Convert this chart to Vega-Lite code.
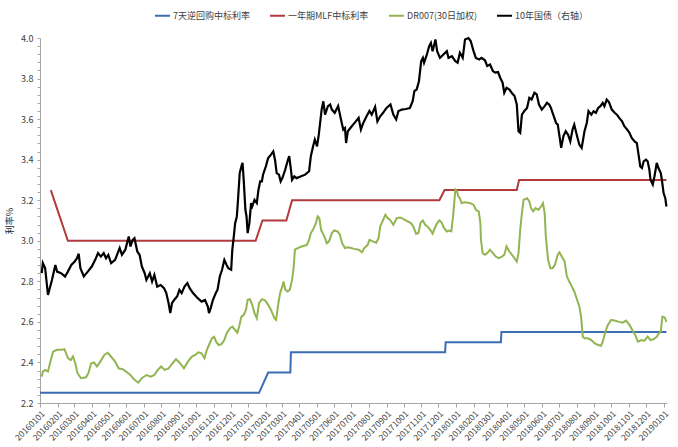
{
  "$schema": "https://vega.github.io/schema/vega-lite/v6.json",
  "width": 627,
  "height": 365,
  "autosize": {"type": "none"},
  "padding": {"left": 40, "top": 38, "right": 11, "bottom": 44},
  "background": "white",
  "config": {
    "font": "Noto Sans CJK SC",
    "view": {"stroke": null},
    "axis": {"grid": false, "domainColor": "#A6A6A6", "tickColor": "#A6A6A6", "labelColor": "#404040", "labelFontSize": 9, "titleColor": "#262626", "labelFont": "Noto Sans CJK SC"}
  },
  "datasets": {
    "repo": [
      {"date": "2016-01-01", "value": 2.25}, {"date": "2017-01-20", "value": 2.25}, {"date": "2017-02-05", "value": 2.35},
      {"date": "2017-03-16", "value": 2.35}, {"date": "2017-03-17", "value": 2.45}, {"date": "2017-12-13", "value": 2.45},
      {"date": "2017-12-14", "value": 2.50}, {"date": "2018-03-21", "value": 2.50}, {"date": "2018-03-22", "value": 2.55},
      {"date": "2019-01-06", "value": 2.55}
    ],
    "mlf": [
      {"date": "2016-01-20", "value": 3.25}, {"date": "2016-02-19", "value": 3.00}, {"date": "2017-01-14", "value": 3.00},
      {"date": "2017-01-26", "value": 3.10}, {"date": "2017-03-09", "value": 3.10}, {"date": "2017-03-19", "value": 3.20},
      {"date": "2017-12-03", "value": 3.20}, {"date": "2017-12-12", "value": 3.25}, {"date": "2018-04-18", "value": 3.25},
      {"date": "2018-04-22", "value": 3.30}, {"date": "2019-01-06", "value": 3.30}
    ],
    "dr007": [
      {"date": "2016-01-04", "value": 2.33}, {"date": "2016-01-06", "value": 2.355}, {"date": "2016-01-10", "value": 2.363},
      {"date": "2016-01-15", "value": 2.355}, {"date": "2016-01-20", "value": 2.412}, {"date": "2016-01-24", "value": 2.453},
      {"date": "2016-01-31", "value": 2.462}, {"date": "2016-02-08", "value": 2.462}, {"date": "2016-02-13", "value": 2.465},
      {"date": "2016-02-19", "value": 2.421}, {"date": "2016-02-24", "value": 2.412}, {"date": "2016-02-28", "value": 2.43},
      {"date": "2016-03-03", "value": 2.396}, {"date": "2016-03-07", "value": 2.347}, {"date": "2016-03-13", "value": 2.322},
      {"date": "2016-03-22", "value": 2.327}, {"date": "2016-03-26", "value": 2.347}, {"date": "2016-03-31", "value": 2.396},
      {"date": "2016-04-05", "value": 2.40}, {"date": "2016-04-10", "value": 2.38}, {"date": "2016-04-16", "value": 2.404},
      {"date": "2016-04-23", "value": 2.437}, {"date": "2016-04-29", "value": 2.448}, {"date": "2016-05-05", "value": 2.428},
      {"date": "2016-05-12", "value": 2.404}, {"date": "2016-05-18", "value": 2.371}, {"date": "2016-05-26", "value": 2.366},
      {"date": "2016-05-31", "value": 2.355}, {"date": "2016-06-08", "value": 2.338}, {"date": "2016-06-15", "value": 2.314},
      {"date": "2016-06-22", "value": 2.30}, {"date": "2016-06-28", "value": 2.322}, {"date": "2016-07-06", "value": 2.338},
      {"date": "2016-07-14", "value": 2.33}, {"date": "2016-07-20", "value": 2.338}, {"date": "2016-07-26", "value": 2.363},
      {"date": "2016-08-01", "value": 2.38}, {"date": "2016-08-07", "value": 2.363}, {"date": "2016-08-14", "value": 2.371},
      {"date": "2016-08-21", "value": 2.396}, {"date": "2016-08-27", "value": 2.416}, {"date": "2016-09-02", "value": 2.40},
      {"date": "2016-09-10", "value": 2.371}, {"date": "2016-09-17", "value": 2.404}, {"date": "2016-09-24", "value": 2.429},
      {"date": "2016-09-30", "value": 2.437}, {"date": "2016-10-05", "value": 2.45}, {"date": "2016-10-11", "value": 2.445},
      {"date": "2016-10-16", "value": 2.421}, {"date": "2016-10-20", "value": 2.46}, {"date": "2016-10-24", "value": 2.486},
      {"date": "2016-10-29", "value": 2.519}, {"date": "2016-11-02", "value": 2.527}, {"date": "2016-11-06", "value": 2.50},
      {"date": "2016-11-10", "value": 2.486}, {"date": "2016-11-15", "value": 2.49}, {"date": "2016-11-20", "value": 2.51},
      {"date": "2016-11-24", "value": 2.544}, {"date": "2016-11-30", "value": 2.569}, {"date": "2016-12-04", "value": 2.577},
      {"date": "2016-12-09", "value": 2.56}, {"date": "2016-12-13", "value": 2.547}, {"date": "2016-12-16", "value": 2.577},
      {"date": "2016-12-20", "value": 2.626}, {"date": "2016-12-24", "value": 2.634}, {"date": "2016-12-28", "value": 2.659},
      {"date": "2016-12-31", "value": 2.709}, {"date": "2017-01-04", "value": 2.712}, {"date": "2017-01-08", "value": 2.684},
      {"date": "2017-01-12", "value": 2.643}, {"date": "2017-01-16", "value": 2.618}, {"date": "2017-01-20", "value": 2.692},
      {"date": "2017-01-25", "value": 2.712}, {"date": "2017-01-31", "value": 2.705}, {"date": "2017-02-05", "value": 2.684},
      {"date": "2017-02-10", "value": 2.659}, {"date": "2017-02-16", "value": 2.618}, {"date": "2017-02-19", "value": 2.61},
      {"date": "2017-02-23", "value": 2.692}, {"date": "2017-02-26", "value": 2.742}, {"date": "2017-03-02", "value": 2.775},
      {"date": "2017-03-04", "value": 2.799}, {"date": "2017-03-07", "value": 2.76}, {"date": "2017-03-11", "value": 2.75},
      {"date": "2017-03-15", "value": 2.758}, {"date": "2017-03-19", "value": 2.807}, {"date": "2017-03-22", "value": 2.873},
      {"date": "2017-03-24", "value": 2.956}, {"date": "2017-03-29", "value": 2.964}, {"date": "2017-04-05", "value": 2.972},
      {"date": "2017-04-14", "value": 2.98}, {"date": "2017-04-18", "value": 3.005}, {"date": "2017-04-21", "value": 3.038},
      {"date": "2017-04-25", "value": 3.055}, {"date": "2017-04-30", "value": 3.087}, {"date": "2017-05-03", "value": 3.12},
      {"date": "2017-05-06", "value": 3.112}, {"date": "2017-05-09", "value": 3.054}, {"date": "2017-05-12", "value": 3.038},
      {"date": "2017-05-16", "value": 3.013}, {"date": "2017-05-19", "value": 2.988}, {"date": "2017-05-23", "value": 2.997},
      {"date": "2017-05-28", "value": 3.038}, {"date": "2017-06-01", "value": 3.051}, {"date": "2017-06-07", "value": 3.046},
      {"date": "2017-06-11", "value": 3.03}, {"date": "2017-06-15", "value": 2.988}, {"date": "2017-06-20", "value": 2.964},
      {"date": "2017-06-25", "value": 2.968}, {"date": "2017-07-01", "value": 2.964}, {"date": "2017-07-06", "value": 2.96},
      {"date": "2017-07-14", "value": 2.956}, {"date": "2017-07-20", "value": 2.943}, {"date": "2017-07-24", "value": 2.964},
      {"date": "2017-07-30", "value": 2.98}, {"date": "2017-08-02", "value": 3.005}, {"date": "2017-08-08", "value": 2.997},
      {"date": "2017-08-14", "value": 2.99}, {"date": "2017-08-18", "value": 3.013}, {"date": "2017-08-21", "value": 3.071},
      {"date": "2017-08-25", "value": 3.096}, {"date": "2017-08-30", "value": 3.128}, {"date": "2017-09-03", "value": 3.112},
      {"date": "2017-09-07", "value": 3.104}, {"date": "2017-09-13", "value": 3.079}, {"date": "2017-09-19", "value": 3.112},
      {"date": "2017-09-25", "value": 3.115}, {"date": "2017-10-01", "value": 3.107}, {"date": "2017-10-08", "value": 3.096},
      {"date": "2017-10-14", "value": 3.087}, {"date": "2017-10-18", "value": 3.071}, {"date": "2017-10-23", "value": 3.035},
      {"date": "2017-10-27", "value": 3.038}, {"date": "2017-10-31", "value": 3.09}, {"date": "2017-11-04", "value": 3.10},
      {"date": "2017-11-08", "value": 3.079}, {"date": "2017-11-12", "value": 3.071}, {"date": "2017-11-17", "value": 3.054},
      {"date": "2017-11-21", "value": 3.035}, {"date": "2017-11-25", "value": 3.063}, {"date": "2017-11-29", "value": 3.087},
      {"date": "2017-12-03", "value": 3.10}, {"date": "2017-12-07", "value": 3.09}, {"date": "2017-12-11", "value": 3.063},
      {"date": "2017-12-16", "value": 3.046}, {"date": "2017-12-20", "value": 3.05}, {"date": "2017-12-24", "value": 3.046},
      {"date": "2017-12-27", "value": 3.12}, {"date": "2017-12-29", "value": 3.186}, {"date": "2017-12-31", "value": 3.252},
      {"date": "2018-01-03", "value": 3.244}, {"date": "2018-01-05", "value": 3.219}, {"date": "2018-01-08", "value": 3.21},
      {"date": "2018-01-11", "value": 3.186}, {"date": "2018-01-17", "value": 3.19}, {"date": "2018-01-25", "value": 3.186},
      {"date": "2018-02-01", "value": 3.178}, {"date": "2018-02-05", "value": 3.153}, {"date": "2018-02-10", "value": 3.145},
      {"date": "2018-02-13", "value": 3.087}, {"date": "2018-02-14", "value": 3.005}, {"date": "2018-02-17", "value": 2.939},
      {"date": "2018-02-21", "value": 2.931}, {"date": "2018-02-25", "value": 2.939}, {"date": "2018-03-02", "value": 2.956},
      {"date": "2018-03-07", "value": 2.939}, {"date": "2018-03-12", "value": 2.922}, {"date": "2018-03-17", "value": 2.914},
      {"date": "2018-03-23", "value": 2.922}, {"date": "2018-03-27", "value": 2.931}, {"date": "2018-03-31", "value": 2.972},
      {"date": "2018-04-05", "value": 2.947}, {"date": "2018-04-12", "value": 2.922}, {"date": "2018-04-18", "value": 2.898},
      {"date": "2018-04-21", "value": 2.939}, {"date": "2018-04-24", "value": 3.054}, {"date": "2018-04-27", "value": 3.137},
      {"date": "2018-04-30", "value": 3.202}, {"date": "2018-05-06", "value": 3.21}, {"date": "2018-05-10", "value": 3.194},
      {"date": "2018-05-13", "value": 3.161}, {"date": "2018-05-17", "value": 3.145}, {"date": "2018-05-21", "value": 3.161},
      {"date": "2018-05-26", "value": 3.153}, {"date": "2018-05-31", "value": 3.17}, {"date": "2018-06-03", "value": 3.185},
      {"date": "2018-06-06", "value": 3.137}, {"date": "2018-06-08", "value": 3.021}, {"date": "2018-06-12", "value": 2.906},
      {"date": "2018-06-16", "value": 2.865}, {"date": "2018-06-20", "value": 2.865}, {"date": "2018-06-24", "value": 2.881},
      {"date": "2018-06-29", "value": 2.931}, {"date": "2018-07-02", "value": 2.943}, {"date": "2018-07-06", "value": 2.922},
      {"date": "2018-07-11", "value": 2.898}, {"date": "2018-07-15", "value": 2.824}, {"date": "2018-07-19", "value": 2.80},
      {"date": "2018-07-24", "value": 2.774}, {"date": "2018-07-28", "value": 2.75}, {"date": "2018-08-02", "value": 2.709},
      {"date": "2018-08-06", "value": 2.675}, {"date": "2018-08-09", "value": 2.626}, {"date": "2018-08-12", "value": 2.527},
      {"date": "2018-08-15", "value": 2.519}, {"date": "2018-08-21", "value": 2.519}, {"date": "2018-08-27", "value": 2.51},
      {"date": "2018-09-02", "value": 2.494}, {"date": "2018-09-08", "value": 2.486}, {"date": "2018-09-13", "value": 2.482},
      {"date": "2018-09-16", "value": 2.502}, {"date": "2018-09-20", "value": 2.544}, {"date": "2018-09-25", "value": 2.585},
      {"date": "2018-10-01", "value": 2.61}, {"date": "2018-10-08", "value": 2.606}, {"date": "2018-10-15", "value": 2.60},
      {"date": "2018-10-21", "value": 2.596}, {"date": "2018-10-27", "value": 2.606}, {"date": "2018-11-02", "value": 2.585},
      {"date": "2018-11-07", "value": 2.56}, {"date": "2018-11-12", "value": 2.536}, {"date": "2018-11-17", "value": 2.502},
      {"date": "2018-11-23", "value": 2.51}, {"date": "2018-11-28", "value": 2.506}, {"date": "2018-12-04", "value": 2.527},
      {"date": "2018-12-09", "value": 2.51}, {"date": "2018-12-14", "value": 2.514}, {"date": "2018-12-20", "value": 2.527},
      {"date": "2018-12-24", "value": 2.544}, {"date": "2018-12-27", "value": 2.552}, {"date": "2018-12-30", "value": 2.626},
      {"date": "2019-01-03", "value": 2.622}, {"date": "2019-01-06", "value": 2.60}
    ],
    "bond": [
      {"date": "2016-01-04", "value": 2.84}, {"date": "2016-01-06", "value": 2.89}, {"date": "2016-01-10", "value": 2.865},
      {"date": "2016-01-15", "value": 2.733}, {"date": "2016-01-22", "value": 2.807}, {"date": "2016-01-28", "value": 2.881},
      {"date": "2016-01-31", "value": 2.848}, {"date": "2016-02-07", "value": 2.84}, {"date": "2016-02-14", "value": 2.824},
      {"date": "2016-02-19", "value": 2.848}, {"date": "2016-02-25", "value": 2.881}, {"date": "2016-03-02", "value": 2.898},
      {"date": "2016-03-06", "value": 2.914}, {"date": "2016-03-09", "value": 2.936}, {"date": "2016-03-12", "value": 2.865},
      {"date": "2016-03-18", "value": 2.824}, {"date": "2016-03-25", "value": 2.848}, {"date": "2016-04-01", "value": 2.873},
      {"date": "2016-04-07", "value": 2.906}, {"date": "2016-04-12", "value": 2.939}, {"date": "2016-04-17", "value": 2.922},
      {"date": "2016-04-22", "value": 2.939}, {"date": "2016-04-26", "value": 2.914}, {"date": "2016-04-30", "value": 2.93},
      {"date": "2016-05-05", "value": 2.89}, {"date": "2016-05-12", "value": 2.906}, {"date": "2016-05-20", "value": 2.964},
      {"date": "2016-05-24", "value": 2.931}, {"date": "2016-05-30", "value": 2.956}, {"date": "2016-06-05", "value": 3.021},
      {"date": "2016-06-08", "value": 2.972}, {"date": "2016-06-12", "value": 3.005}, {"date": "2016-06-15", "value": 3.013},
      {"date": "2016-06-20", "value": 2.947}, {"date": "2016-06-24", "value": 2.931}, {"date": "2016-06-28", "value": 2.873},
      {"date": "2016-07-03", "value": 2.84}, {"date": "2016-07-06", "value": 2.807}, {"date": "2016-07-12", "value": 2.84},
      {"date": "2016-07-16", "value": 2.799}, {"date": "2016-07-20", "value": 2.832}, {"date": "2016-07-25", "value": 2.774},
      {"date": "2016-07-31", "value": 2.782}, {"date": "2016-08-06", "value": 2.766}, {"date": "2016-08-10", "value": 2.742},
      {"date": "2016-08-14", "value": 2.692}, {"date": "2016-08-17", "value": 2.643}, {"date": "2016-08-20", "value": 2.692},
      {"date": "2016-08-24", "value": 2.709}, {"date": "2016-08-29", "value": 2.725}, {"date": "2016-09-02", "value": 2.758},
      {"date": "2016-09-06", "value": 2.742}, {"date": "2016-09-11", "value": 2.774}, {"date": "2016-09-16", "value": 2.791},
      {"date": "2016-09-20", "value": 2.766}, {"date": "2016-09-26", "value": 2.742}, {"date": "2016-10-03", "value": 2.72},
      {"date": "2016-10-11", "value": 2.70}, {"date": "2016-10-17", "value": 2.708}, {"date": "2016-10-22", "value": 2.676},
      {"date": "2016-10-24", "value": 2.643}, {"date": "2016-10-27", "value": 2.668}, {"date": "2016-10-31", "value": 2.709},
      {"date": "2016-11-05", "value": 2.742}, {"date": "2016-11-08", "value": 2.758}, {"date": "2016-11-12", "value": 2.824},
      {"date": "2016-11-16", "value": 2.857}, {"date": "2016-11-20", "value": 2.906}, {"date": "2016-11-24", "value": 2.881},
      {"date": "2016-11-27", "value": 2.865}, {"date": "2016-12-02", "value": 2.857}, {"date": "2016-12-04", "value": 2.956},
      {"date": "2016-12-06", "value": 3.005}, {"date": "2016-12-09", "value": 3.087}, {"date": "2016-12-12", "value": 3.12},
      {"date": "2016-12-14", "value": 3.202}, {"date": "2016-12-17", "value": 3.334}, {"date": "2016-12-20", "value": 3.367},
      {"date": "2016-12-22", "value": 3.384}, {"date": "2016-12-24", "value": 3.301}, {"date": "2016-12-27", "value": 3.153},
      {"date": "2016-12-29", "value": 3.12}, {"date": "2016-12-31", "value": 3.038}, {"date": "2017-01-03", "value": 3.087},
      {"date": "2017-01-06", "value": 3.186}, {"date": "2017-01-08", "value": 3.17}, {"date": "2017-01-12", "value": 3.202},
      {"date": "2017-01-16", "value": 3.186}, {"date": "2017-01-19", "value": 3.252}, {"date": "2017-01-22", "value": 3.293},
      {"date": "2017-01-25", "value": 3.293}, {"date": "2017-01-27", "value": 3.326}, {"date": "2017-02-01", "value": 3.367},
      {"date": "2017-02-05", "value": 3.408}, {"date": "2017-02-10", "value": 3.425}, {"date": "2017-02-14", "value": 3.441},
      {"date": "2017-02-17", "value": 3.40}, {"date": "2017-02-20", "value": 3.334}, {"date": "2017-02-24", "value": 3.326},
      {"date": "2017-02-27", "value": 3.293}, {"date": "2017-03-02", "value": 3.309}, {"date": "2017-03-07", "value": 3.351},
      {"date": "2017-03-11", "value": 3.392}, {"date": "2017-03-14", "value": 3.417}, {"date": "2017-03-17", "value": 3.351},
      {"date": "2017-03-19", "value": 3.301}, {"date": "2017-03-23", "value": 3.318}, {"date": "2017-03-27", "value": 3.309},
      {"date": "2017-04-04", "value": 3.318}, {"date": "2017-04-11", "value": 3.326}, {"date": "2017-04-18", "value": 3.343},
      {"date": "2017-04-21", "value": 3.417}, {"date": "2017-04-25", "value": 3.466}, {"date": "2017-04-28", "value": 3.499},
      {"date": "2017-05-02", "value": 3.466}, {"date": "2017-05-05", "value": 3.523}, {"date": "2017-05-10", "value": 3.647},
      {"date": "2017-05-13", "value": 3.688}, {"date": "2017-05-16", "value": 3.622}, {"date": "2017-05-21", "value": 3.664},
      {"date": "2017-05-25", "value": 3.672}, {"date": "2017-05-28", "value": 3.647}, {"date": "2017-06-02", "value": 3.631},
      {"date": "2017-06-08", "value": 3.664}, {"date": "2017-06-13", "value": 3.598}, {"date": "2017-06-17", "value": 3.548},
      {"date": "2017-06-20", "value": 3.556}, {"date": "2017-06-22", "value": 3.482}, {"date": "2017-06-25", "value": 3.54},
      {"date": "2017-07-02", "value": 3.565}, {"date": "2017-07-08", "value": 3.585}, {"date": "2017-07-14", "value": 3.606},
      {"date": "2017-07-18", "value": 3.548}, {"date": "2017-07-22", "value": 3.58}, {"date": "2017-07-28", "value": 3.614},
      {"date": "2017-08-02", "value": 3.64}, {"date": "2017-08-06", "value": 3.622}, {"date": "2017-08-12", "value": 3.66},
      {"date": "2017-08-16", "value": 3.589}, {"date": "2017-08-21", "value": 3.614}, {"date": "2017-08-26", "value": 3.631},
      {"date": "2017-09-01", "value": 3.655}, {"date": "2017-09-08", "value": 3.672}, {"date": "2017-09-13", "value": 3.622},
      {"date": "2017-09-18", "value": 3.598}, {"date": "2017-09-22", "value": 3.64}, {"date": "2017-09-28", "value": 3.647},
      {"date": "2017-10-05", "value": 3.65}, {"date": "2017-10-12", "value": 3.655}, {"date": "2017-10-17", "value": 3.688},
      {"date": "2017-10-20", "value": 3.738}, {"date": "2017-10-24", "value": 3.746}, {"date": "2017-10-28", "value": 3.787},
      {"date": "2017-11-01", "value": 3.886}, {"date": "2017-11-04", "value": 3.902}, {"date": "2017-11-06", "value": 3.878},
      {"date": "2017-11-11", "value": 3.919}, {"date": "2017-11-15", "value": 3.96}, {"date": "2017-11-18", "value": 3.976},
      {"date": "2017-11-21", "value": 3.935}, {"date": "2017-11-26", "value": 3.993}, {"date": "2017-11-29", "value": 3.935},
      {"date": "2017-12-04", "value": 3.902}, {"date": "2017-12-10", "value": 3.919}, {"date": "2017-12-16", "value": 3.935},
      {"date": "2017-12-19", "value": 3.902}, {"date": "2017-12-25", "value": 3.91}, {"date": "2017-12-31", "value": 3.886},
      {"date": "2018-01-04", "value": 3.878}, {"date": "2018-01-08", "value": 3.927}, {"date": "2018-01-13", "value": 3.902},
      {"date": "2018-01-17", "value": 3.993}, {"date": "2018-01-23", "value": 4.0}, {"date": "2018-01-27", "value": 3.985},
      {"date": "2018-02-01", "value": 3.935}, {"date": "2018-02-05", "value": 3.902}, {"date": "2018-02-11", "value": 3.894},
      {"date": "2018-02-15", "value": 3.902}, {"date": "2018-02-21", "value": 3.89}, {"date": "2018-02-25", "value": 3.862},
      {"date": "2018-03-02", "value": 3.869}, {"date": "2018-03-07", "value": 3.837}, {"date": "2018-03-11", "value": 3.829},
      {"date": "2018-03-16", "value": 3.832}, {"date": "2018-03-20", "value": 3.803}, {"date": "2018-03-24", "value": 3.78},
      {"date": "2018-03-27", "value": 3.73}, {"date": "2018-03-31", "value": 3.754}, {"date": "2018-04-05", "value": 3.746},
      {"date": "2018-04-09", "value": 3.73}, {"date": "2018-04-14", "value": 3.714}, {"date": "2018-04-18", "value": 3.672},
      {"date": "2018-04-21", "value": 3.54}, {"date": "2018-04-24", "value": 3.532}, {"date": "2018-04-27", "value": 3.622},
      {"date": "2018-05-01", "value": 3.639}, {"date": "2018-05-06", "value": 3.655}, {"date": "2018-05-10", "value": 3.705},
      {"date": "2018-05-14", "value": 3.697}, {"date": "2018-05-19", "value": 3.73}, {"date": "2018-05-23", "value": 3.722},
      {"date": "2018-05-27", "value": 3.672}, {"date": "2018-06-01", "value": 3.647}, {"date": "2018-06-06", "value": 3.664},
      {"date": "2018-06-10", "value": 3.68}, {"date": "2018-06-14", "value": 3.672}, {"date": "2018-06-17", "value": 3.655},
      {"date": "2018-06-21", "value": 3.622}, {"date": "2018-06-26", "value": 3.581}, {"date": "2018-06-29", "value": 3.573},
      {"date": "2018-07-02", "value": 3.516}, {"date": "2018-07-05", "value": 3.458}, {"date": "2018-07-09", "value": 3.516},
      {"date": "2018-07-13", "value": 3.54}, {"date": "2018-07-17", "value": 3.524}, {"date": "2018-07-21", "value": 3.49},
      {"date": "2018-07-25", "value": 3.548}, {"date": "2018-07-28", "value": 3.573}, {"date": "2018-08-02", "value": 3.516},
      {"date": "2018-08-06", "value": 3.474}, {"date": "2018-08-10", "value": 3.458}, {"date": "2018-08-15", "value": 3.54},
      {"date": "2018-08-19", "value": 3.581}, {"date": "2018-08-22", "value": 3.639}, {"date": "2018-08-27", "value": 3.622},
      {"date": "2018-08-31", "value": 3.639}, {"date": "2018-09-04", "value": 3.631}, {"date": "2018-09-08", "value": 3.655},
      {"date": "2018-09-12", "value": 3.664}, {"date": "2018-09-16", "value": 3.68}, {"date": "2018-09-19", "value": 3.664},
      {"date": "2018-09-23", "value": 3.696}, {"date": "2018-09-27", "value": 3.684}, {"date": "2018-10-02", "value": 3.647},
      {"date": "2018-10-07", "value": 3.631}, {"date": "2018-10-11", "value": 3.622}, {"date": "2018-10-15", "value": 3.606},
      {"date": "2018-10-20", "value": 3.589}, {"date": "2018-10-24", "value": 3.565}, {"date": "2018-10-29", "value": 3.548},
      {"date": "2018-11-02", "value": 3.532}, {"date": "2018-11-06", "value": 3.507}, {"date": "2018-11-11", "value": 3.49},
      {"date": "2018-11-15", "value": 3.482}, {"date": "2018-11-18", "value": 3.425}, {"date": "2018-11-21", "value": 3.367},
      {"date": "2018-11-24", "value": 3.359}, {"date": "2018-11-27", "value": 3.392}, {"date": "2018-12-01", "value": 3.40},
      {"date": "2018-12-04", "value": 3.392}, {"date": "2018-12-07", "value": 3.351}, {"date": "2018-12-09", "value": 3.301},
      {"date": "2018-12-13", "value": 3.277}, {"date": "2018-12-16", "value": 3.318}, {"date": "2018-12-20", "value": 3.384},
      {"date": "2018-12-23", "value": 3.359}, {"date": "2018-12-27", "value": 3.334}, {"date": "2018-12-29", "value": 3.301},
      {"date": "2019-01-01", "value": 3.235}, {"date": "2019-01-04", "value": 3.21}, {"date": "2019-01-06", "value": 3.169}
    ]
  },
  "encoding": {
    "x": {
      "field": "date",
      "type": "temporal",
      "scale": {"type": "utc", "domain": [{"year": 2016, "month": 1, "date": 1, "utc": true}, {"year": 2019, "month": 1, "date": 7, "utc": true}]},
      "axis": {"title": null, "format": "%Y%m%d", "labelAngle": -45, "tickCount": {"interval": "month", "step": 1}, "tickSize": 4, "labelOverlap": false, "labelFontSize": 8.5, "labelPadding": 2, "labelFlush": false}
    },
    "y": {
      "field": "value",
      "type": "quantitative",
      "scale": {"domain": [2.2, 4.0], "nice": false, "zero": false},
      "axis": {
        "title": "利率%",
        "values": [2.2, 2.24, 2.28, 2.32, 2.36, 2.4, 2.44, 2.48, 2.52, 2.56, 2.6, 2.64, 2.68, 2.72, 2.76, 2.8, 2.84, 2.88, 2.92, 2.96, 3.0, 3.04, 3.08, 3.12, 3.16, 3.2, 3.24, 3.28, 3.32, 3.36, 3.4, 3.44, 3.48, 3.52, 3.56, 3.6, 3.64, 3.68, 3.72, 3.76, 3.8, 3.84, 3.88, 3.92, 3.96, 4.0],
        "labelExpr": "abs(datum.value * 5 - round(datum.value * 5)) < 0.001 ? format(datum.value, '.1f') : ''",
        "labelOverlap": false,
        "tickSize": 3,
        "labelPadding": 4,
        "titlePadding": 6,
        "titleFontSize": 9,
        "titleFontWeight": "normal"
      }
    }
  },
  "layer": [
    {
      "data": {"name": "repo"},
      "mark": {"type": "line", "strokeWidth": 2},
      "encoding": {
        "color": {
          "datum": "7天逆回购中标利率",
          "type": "nominal",
          "scale": {"domain": ["7天逆回购中标利率", "一年期MLF中标利率", "DR007(30日加权)", "10年国债（右轴）"], "range": ["#3C6DB4", "#B23A3D", "#92B451", "#000000"]},
          "legend": {"orient": "none", "legendX": 114, "legendY": -31, "direction": "horizontal", "title": null, "symbolType": "stroke", "symbolStrokeWidth": 2, "symbolSize": 225, "labelFontSize": 9, "labelColor": "#404040", "columnPadding": 16, "labelOffset": 2}
        }
      }
    },
    {"data": {"name": "mlf"}, "mark": {"type": "line", "strokeWidth": 2}, "encoding": {"color": {"datum": "一年期MLF中标利率", "type": "nominal"}}},
    {"data": {"name": "dr007"}, "mark": {"type": "line", "strokeWidth": 2}, "encoding": {"color": {"datum": "DR007(30日加权)", "type": "nominal"}}},
    {"data": {"name": "bond"}, "mark": {"type": "line", "strokeWidth": 2.2, "strokeJoin": "miter"}, "encoding": {"color": {"datum": "10年国债（右轴）", "type": "nominal"}}}
  ]
}
